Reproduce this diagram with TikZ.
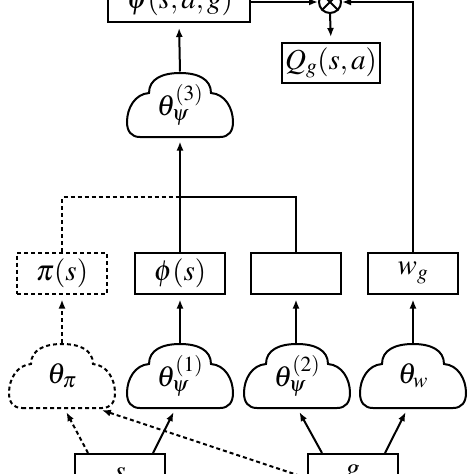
\documentclass[tikz,border=0pt]{standalone}
\usepackage{mathptmx}
\usetikzlibrary{arrows.meta}
\newcommand{\cloudat}[2][]{%
  \begin{scope}[shift={(#2.center)}]
    \draw[#1] (-40,32) -- (40,32)
      .. controls (49,32) and (53,26) .. (53,17)
      .. controls (53,3) and (45,-11) .. (31,-12)
      .. controls (31,-26) and (18,-32) .. (0,-32)
      .. controls (-18,-32) and (-31,-26) .. (-31,-12)
      .. controls (-45,-11) and (-53,3) .. (-53,17)
      .. controls (-53,26) and (-49,32) .. (-40,32) -- cycle;
  \end{scope}}
\begin{document}
\begin{tikzpicture}[x=1pt,y=-1pt,line width=2pt,
  lbl/.style={font=\fontsize{29}{33}\selectfont},
  box/.style={draw, lbl, minimum width=90pt, minimum height=41pt, inner sep=0pt},
  cloudnode/.style={lbl, minimum width=106pt, minimum height=65pt, inner sep=0pt},
  arr/.style={-{Latex[length=9pt,width=7pt]}},
  dsh/.style={dash pattern=on 4pt off 3pt}]
\useasboundingbox (0,0) rectangle (474,474);
\clip (0,0) rectangle (474,474);
% top row
\node[box, minimum width=142pt] (psi) at (179,1.5) {$\psi(s,a,g)$};
\node[draw, circle, minimum size=22pt, inner sep=0pt] (ot) at (330,2) {};
\draw (ot.north west) -- (ot.south east) (ot.north east) -- (ot.south west);
\node[box, minimum width=98pt, minimum height=40pt] (Q) at (331,63) {$Q_g(s,a)$};
\node[cloudnode] (c3) at (180,105) {$\theta_\psi^{(3)}$};
% box row
\node[box, dsh] (pi) at (62,273) {$\pi(s)$};
\node[box] (phi) at (180,273) {$\phi(s)$};
\node[box] (e) at (296,273) {};
\node[box] (w) at (413,273) {$w_g$};
% cloud row
\node[cloudnode] (cpi) at (62,376) {$\theta_\pi$};
\node[cloudnode] (c1) at (180,376) {$\theta_\psi^{(1)}$};
\node[cloudnode] (c2) at (297,376) {$\theta_\psi^{(2)}$};
\node[cloudnode] (cw) at (413,376) {$\theta_w$};
\cloudat[dsh]{cpi}
\cloudat{c1}
\cloudat{c2}
\cloudat{cw}
\cloudat{c3}
% inputs
\node[box] (s) at (120,474.5) {$s$};
\node[box] (g) at (352.5,474.5) {$g$};
% connectors
\draw[arr, shorten >=5pt] (c3.north) -- (psi.south);
\draw[arr] (ot.west -| psi.east) -- (ot.west);
\draw[arr] (w.north) |- (ot.east);
\draw[arr, shorten >=5pt] (ot.south) -- (Q.north);
\coordinate (j) at (180,197);
\draw[arr, shorten >=3pt] (phi.north) -- (c3.south);
\draw (e.north) |- (j);
\draw[dsh] (pi.north) |- (j);
\draw[arr, dsh, shorten >=5pt] (cpi.north) -- (pi.south);
\draw[arr, shorten >=5pt] (c1.north) -- (phi.south);
\draw[arr, shorten >=5pt] (c2.north -| e.south) -- (e.south);
\draw[arr, shorten >=5pt] (cw.north) -- (w.south);
\draw[arr, dsh, shorten >=3pt] ([xshift=-32pt]s.north) -- ([xshift=3pt]cpi.south);
\draw[arr, shorten >=3pt] ([xshift=33pt]s.north) -- ([xshift=-5pt]c1.south);
\draw[arr, shorten >=3pt] ([xshift=-30.5pt]g.north) -- ([xshift=1pt]c2.south);
\draw[arr, shorten >=3pt] ([xshift=32.5pt]g.north) -- ([xshift=-6pt]cw.south);
\draw[arr, dsh, shorten >=2pt] ([yshift=-3.5pt]g.west) -- ([xshift=38pt]cpi.south);
\end{tikzpicture}
\end{document}
